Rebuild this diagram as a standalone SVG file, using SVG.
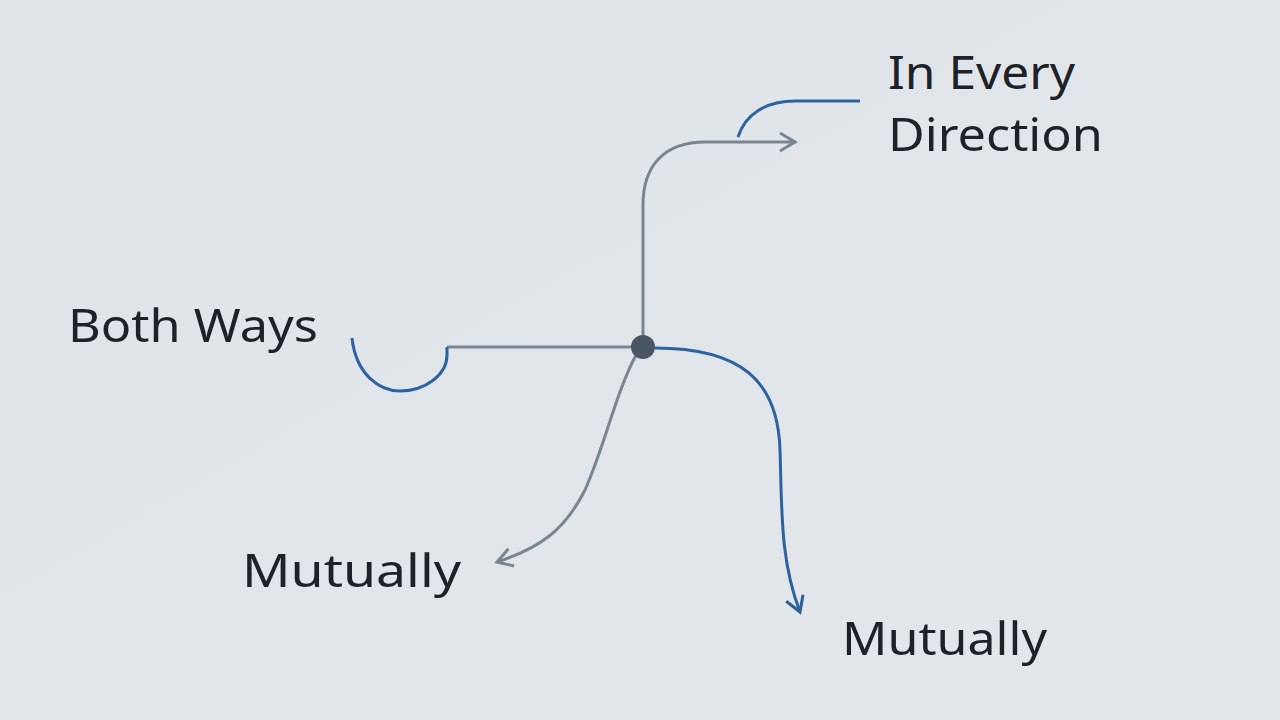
<svg xmlns="http://www.w3.org/2000/svg" width="1280" height="720" viewBox="0 0 1280 720">
<defs>
<linearGradient id="bg" x1="0" y1="0" x2="1" y2="1"><stop offset="0" stop-color="#dfe4e9"/><stop offset="1" stop-color="#e3e7ec"/></linearGradient>
<marker id="ag" viewBox="0 0 24 24" refX="21" refY="12" markerWidth="24" markerHeight="24" markerUnits="userSpaceOnUse" orient="auto"><path d="M6,3 L21,12 L6,21" fill="none" stroke="#7a8590" stroke-width="3"/></marker>
<marker id="ab" viewBox="0 0 24 24" refX="21" refY="12" markerWidth="24" markerHeight="24" markerUnits="userSpaceOnUse" orient="auto"><path d="M6,3 L21,12 L6,21" fill="none" stroke="#2f5f95" stroke-width="3"/></marker>
<style>
text{font-family:"Noto Sans","Open Sans",sans-serif;font-size:46px;fill:#1d2229}
.g{fill:none;stroke:#7a8590;stroke-width:3}
.b{fill:none;stroke:#2c62a0;stroke-width:3}
</style>
</defs>
<rect width="1280" height="720" fill="url(#bg)"/>
<g id="connectors">
<path class="g" d="M447,347 H643"/>
<path class="b" d="M352,338 C356,375 380,391 400,391 C425,391 447,375 447,355 V347"/>
<path class="g" d="M643,347 V205 C643,165 665,142 705,142 H795" marker-end="url(#ag)" stroke-linecap="round"/>
<path class="b" d="M738,137 C745,115 765,101 795,101 H860"/>
<path class="b" d="M655,348 C740,348 778,380 780,450 C782,510 780,560 800,612" marker-end="url(#ab)"/>
<path class="g" d="M636,355 C615,395 605,445 585,490 C565,530 540,548 497,562" marker-end="url(#ag)"/>
</g>
<g id="hub"><circle cx="643" cy="347" r="12" fill="#4a5566"/></g>
<g id="n-every"><text x="888" y="89" textLength="187" lengthAdjust="spacingAndGlyphs">In Every</text><text x="888" y="151" textLength="215" lengthAdjust="spacingAndGlyphs">Direction</text></g>
<g id="n-both"><text x="68" y="342" textLength="250" lengthAdjust="spacingAndGlyphs">Both Ways</text></g>
<g id="n-mut1"><text x="242" y="587" textLength="219" lengthAdjust="spacingAndGlyphs">Mutually</text></g>
<g id="n-mut2"><text x="842" y="655" textLength="205" lengthAdjust="spacingAndGlyphs">Mutually</text></g>
</svg>
